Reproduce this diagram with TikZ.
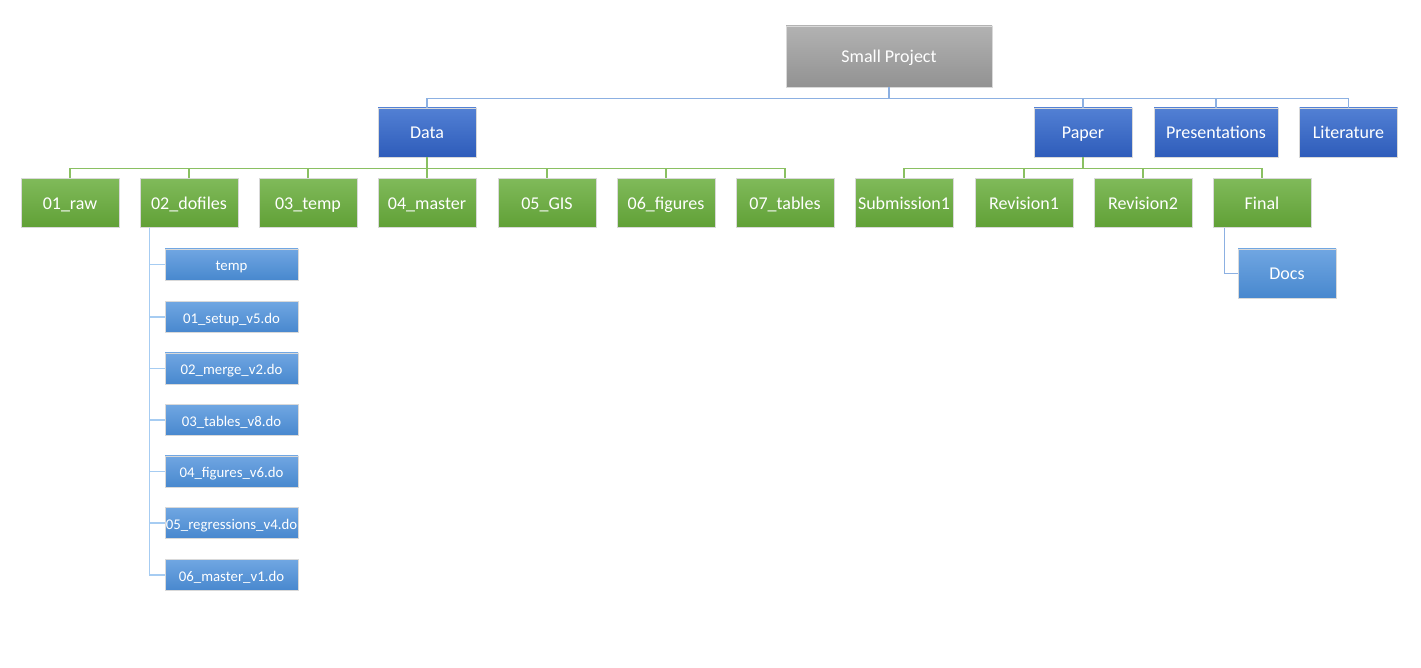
\documentclass[tikz,border=0pt]{standalone}
\usepackage{fontspec}
\setmainfont{Carlito}
\definecolor{graytop}{RGB}{178,178,178}
\definecolor{graybot}{RGB}{146,146,146}
\definecolor{bluetop}{RGB}{82,128,212}
\definecolor{bluebot}{RGB}{46,92,186}
\definecolor{greentop}{RGB}{128,186,90}
\definecolor{greenbot}{RGB}{96,160,54}
\definecolor{lighttop}{RGB}{112,166,226}
\definecolor{lightbot}{RGB}{72,136,206}
\definecolor{blueline}{RGB}{140,176,226}
\definecolor{greenline}{RGB}{138,192,98}
\definecolor{lightline}{RGB}{166,204,242}
\tikzset{
    box/.style={inner sep=0pt, text=white, draw=white!70!gray, line width=0.4pt, text height=0.75em, text depth=0.1em, font=\fontsize{9}{11}\selectfont},
    rootbox/.style={box, top color=graytop, bottom color=graybot, minimum width=103pt, minimum height=30.5pt},
    folder/.style={box, top color=bluetop, bottom color=bluebot, minimum width=49pt, minimum height=24.5pt},
    subfolder/.style={box, top color=greentop, bottom color=greenbot, minimum width=49pt, minimum height=24.5pt},
    leaf/.style={box, top color=lighttop, bottom color=lightbot, minimum width=49pt, minimum height=24.5pt},
    dofile/.style={leaf, minimum width=66.5pt, minimum height=15.5pt, font=\fontsize{7.4}{9}\selectfont},
    bline/.style={blueline, line width=0.75pt},
    gline/.style={greenline, line width=0.75pt},
    lline/.style={lightline, line width=0.75pt}
}
\begin{document}
\begin{tikzpicture}[x=0.5pt, y=-0.5pt]
            \useasboundingbox (0,0) rectangle (1421,668);
            \node [rootbox] (root) at(889,56.5) {Small Project};
            \node [folder] (data) at(427,132.5) {Data};
            \node [folder] (paper) at(1083,132.5) {Paper};
            \node [folder, minimum width=62pt] (pres) at(1216,132.5) {Presentations};
            \node [folder] (lit) at(1348.5,132.5) {Literature};
            \node [subfolder] (raw) at(70,203) {01\_raw};
            \node [subfolder] (dofiles) at(189,203) {02\_dofiles};
            \node [subfolder] (temp) at(308,203) {03\_temp};
            \node [subfolder] (master) at(427,203) {04\_master};
            \node [subfolder] (gis) at(547,203) {05\_GIS};
            \node [subfolder] (figures) at(666,203) {06\_figures};
            \node [subfolder] (tables) at(785,203) {07\_tables};
            \node [subfolder] (sub) at(904,203) {Submission1};
            \node [subfolder] (rev1) at(1024,203) {Revision1};
            \node [subfolder] (rev2) at(1143,203) {Revision2};
            \node [subfolder] (final) at(1262,203) {Final};
            \node [leaf] (docs) at(1287,273.5) {Docs};
            \node [dofile] (dotemp) at(231.5,264.5) {temp};
            \node [dofile] (setup) at(231.5,317) {01\_setup\_v5.do};
            \node [dofile] (merge) at(231.5,368.5) {02\_merge\_v2.do};
            \node [dofile] (dotables) at(231.5,420) {03\_tables\_v8.do};
            \node [dofile] (dofigures) at(231.5,471.5) {04\_figures\_v6.do};
            \node [dofile] (regress) at(231.5,523) {05\_regressions\_v4.do};
            \node [dofile] (domaster) at(231.5,575) {06\_master\_v1.do};
            \foreach \c in {data,paper,pres,lit}
                \draw [bline] (root.south) -- ++(0,11) -| (\c.north);
            \foreach \c in {raw,dofiles,temp,master,gis,figures,tables}
                \draw [gline] (data.south) -- ++(0,11) -| (\c.north);
            \foreach \c in {sub,rev1,rev2,final}
                \draw [gline] (paper.south) -- ++(0,11) -| (\c.north);
            \foreach \c in {dotemp,setup,merge,dotables,dofigures,regress,domaster}
                \draw [lline] (dofiles.south west) ++(10,0) |- (\c.west);
            \draw [bline] (final.south west) ++(12,0) |- (docs.west);
        \end{tikzpicture}
\end{document}
